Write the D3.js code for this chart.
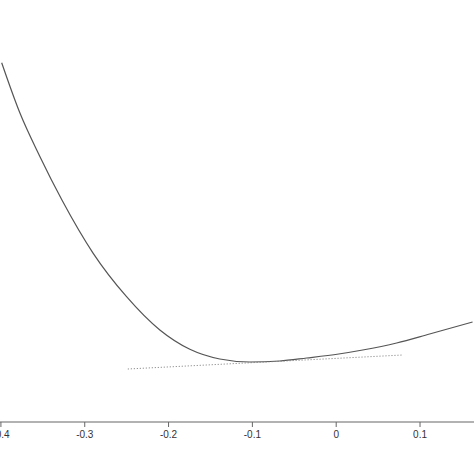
<!DOCTYPE html>
<html>
<head>
<meta charset="utf-8">
<script src="https://cdn.jsdelivr.net/npm/d3@7"></script>
<style>
  html, body { margin: 0; padding: 0; background: #fff; }
</style>
</head>
<body>
<script>
// DATA
var curveX = [-0.3985, -0.3766, -0.3528, -0.3266, -0.2893, -0.2495, -0.2098, -0.1740, -0.1383,
              -0.1025, -0.0667, -0.0346, 0.0036, 0.0322, 0.0727, 0.1120, 0.1633];
var curveY = [3.593, 3.087, 2.653, 2.22, 1.687, 1.253, 0.92, 0.727, 0.63,
              0.60, 0.61, 0.64, 0.68, 0.72, 0.79, 0.88, 1.00];
var tangentX = [-0.248, 0.080];
var tangentY = [0.53, 0.67];
var tickValues = [-0.4, -0.3, -0.2, -0.1, 0, 0.1];
var tickLabels = ["-0.4", "-0.3", "-0.2", "-0.1", "0", "0.1"];

// SETUP
var width = 474,
    height = 474;

var svg = d3.select("body").append("svg")
    .attr("width", width)
    .attr("height", height);

var x = d3.scaleLinear().domain([-0.4005, 0.165]).range([0, 474]);
var y = d3.scaleLinear().domain([0, 4.22]).range([422, 0]);

var line = d3.line()
    .x(function(d) { return x(d[0]); })
    .y(function(d) { return y(d[1]); })
    .curve(d3.curveMonotoneX);

// curve
svg.append("path")
    .attr("fill", "none")
    .attr("stroke", "#555")
    .attr("stroke-width", 1.2)
    .attr("d", line(d3.zip(curveX, curveY)));

// dotted tangent
svg.append("path")
    .attr("fill", "none")
    .attr("stroke", "#777")
    .attr("stroke-width", 1)
    .attr("stroke-dasharray", "1,2")
    .attr("d", line(d3.zip(tangentX, tangentY)));

// x axis
var axis = svg.append("g")
    .attr("transform", "translate(0," + y(0) + ")")
    .call(d3.axisBottom(x)
        .tickValues(tickValues)
        .tickSize(5)
        .tickSizeOuter(0)
        .tickFormat(function(d, i) { return tickLabels[i]; }));

axis.select(".domain")
    .attr("stroke", "#666")
    .attr("stroke-width", 1.2)
    .attr("d", "M0,0H" + width);

axis.selectAll(".tick line").attr("stroke", "#666");
axis.selectAll(".tick text")
    .attr("fill", "#333")
    .attr("y", 9)
    .style("font-family", "Liberation Sans, Arial, sans-serif")
    .style("font-size", "10px");
</script>
</body>
</html>
